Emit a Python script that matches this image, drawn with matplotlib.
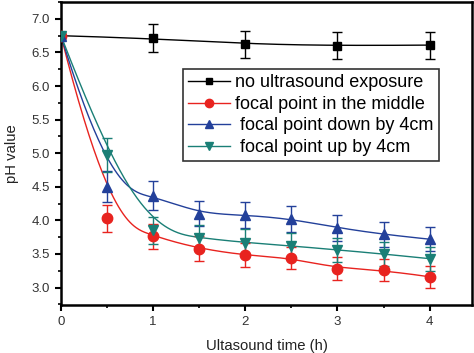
import numpy as np
import matplotlib
matplotlib.use("Agg")
import matplotlib.pyplot as plt
from matplotlib.ticker import MultipleLocator
from matplotlib.lines import Line2D

plt.rcParams['font.family'] = ['Liberation Sans', 'DejaVu Sans']

x_ctrl = [0, 1, 2, 3, 4]
y_ctrl = [6.75, 6.71, 6.62, 6.60, 6.61]
e_ctrl = [0.0, 0.21, 0.20, 0.20, 0.20]

x_t = [0, 0.5, 1, 1.5, 2, 2.5, 3, 3.5, 4]
y_mid = [6.75, 4.03, 3.76, 3.58, 3.48, 3.44, 3.28, 3.26, 3.16]
e_mid = [0.0, 0.20, 0.18, 0.18, 0.18, 0.17, 0.17, 0.16, 0.16]
y_down = [6.75, 4.50, 4.37, 4.10, 4.08, 4.02, 3.89, 3.79, 3.72]
e_down = [0.0, 0.23, 0.22, 0.19, 0.20, 0.19, 0.19, 0.18, 0.18]
y_up = [6.75, 4.97, 3.85, 3.74, 3.67, 3.62, 3.56, 3.50, 3.43]
e_up = [0.0, 0.25, 0.20, 0.19, 0.20, 0.19, 0.18, 0.18, 0.18]

labels = ["no ultrasound exposure", "focal point in the middle",
          " focal point down by 4cm", " focal point up by 4cm"]
colors = ["#000000", "#e8231f", "#23409a", "#1a7f76"]


def bspline(xp, yp, n=400, deg=3):
    """Clamped B-spline using the data points as control points."""
    P = np.column_stack([xp, yp]).astype(float)
    m = len(P)
    k = min(deg, m - 1)
    inner = np.arange(1, m - k)
    knots = np.concatenate([np.zeros(k + 1), inner, np.full(k + 1, m - k)]).astype(float)
    ts = np.linspace(0, m - k, n)
    ts[-1] -= 1e-9

    def basis(i, p, t):
        if p == 0:
            return ((knots[i] <= t) & (t < knots[i + 1])).astype(float)
        a = np.zeros_like(t); b = np.zeros_like(t)
        d1 = knots[i + p] - knots[i]
        d2 = knots[i + p + 1] - knots[i + 1]
        if d1 > 0:
            a = (t - knots[i]) / d1 * basis(i, p - 1, t)
        if d2 > 0:
            b = (knots[i + p + 1] - t) / d2 * basis(i + 1, p - 1, t)
        return a + b

    B = np.column_stack([basis(i, k, ts) for i in range(m)])
    C = B @ P
    return C[:, 0], C[:, 1]


fig = plt.figure(figsize=(4.74, 3.53), dpi=100)
ax = fig.add_axes([0.1287, 0.136, 0.867, 0.858])

cx, cy = bspline(x_ctrl, y_ctrl)
ax.plot(cx, cy, color=colors[0], lw=1.0, zorder=2)
ax.errorbar(x_ctrl, y_ctrl, yerr=e_ctrl, fmt='s', color=colors[0], ms=6,
            capsize=3.8, elinewidth=1, capthick=1, zorder=3)

markers = ['o', '^', 'v']
for ys, es, col, mk in zip([y_mid, y_down, y_up], [e_mid, e_down, e_up],
                           colors[1:], markers):
    sx, sy = bspline(x_t, ys)
    ax.plot(sx, sy, color=col, lw=1.0, zorder=2)
    ax.errorbar(x_t, ys, yerr=es, fmt=mk, color=col, ms=7.5, capsize=3.8,
                elinewidth=1, capthick=1, zorder=3)

ax.set_xlim(0, 4.46)
ax.set_ylim(2.74, 7.25)
ax.xaxis.set_major_locator(MultipleLocator(1))
ax.xaxis.set_minor_locator(MultipleLocator(0.5))
ax.yaxis.set_minor_locator(MultipleLocator(0.25))
ax.set_yticks(np.arange(3.0, 7.01, 0.5))
ax.tick_params(which='major', direction='out', length=4.5, width=1.5,
               labelsize=9.5, labelcolor='#333333')
ax.tick_params(which='minor', direction='out', length=2.5, width=1.2)
for s in ax.spines.values():
    s.set_linewidth(1.8)

ax.set_xlabel("Ultasound time (h)", fontsize=10.7, color='#222222', labelpad=8)
ax.set_ylabel("pH value", fontsize=10.7, color='#222222', labelpad=9)

handles = [Line2D([], [], color=c, marker=m, ms=ms, lw=1.0)
           for c, m, ms in zip(colors, ['s', 'o', '^', 'v'], [5, 6, 6, 6])]
leg = ax.legend(handles, labels, loc='upper left', bbox_to_anchor=(0.297, 0.779),
                borderaxespad=0, fontsize=13, frameon=True, fancybox=False,
                edgecolor='black', handlelength=2.3, handletextpad=0.3,
                borderpad=0.3, labelspacing=0.25)
leg.get_frame().set_linewidth(1.2)

fig.savefig("out.png", dpi=100)
